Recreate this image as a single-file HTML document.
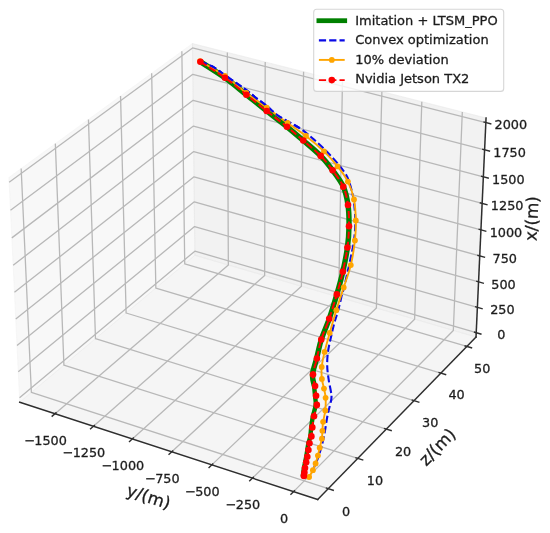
<!DOCTYPE html>
<html lang="en"><head><meta charset="utf-8"><title>Trajectory comparison</title>
<style>html,body{margin:0;padding:0;background:#fff}svg{display:block}</style></head>
<body>
<svg width="550" height="533" viewBox="0 0 550 533">
<rect width="550" height="533" fill="#fff"/>
<polygon points="19.74,402.16 194.92,255.32 192.49,43.55 8.93,177.51" fill="#f2f2f2" fill-opacity="0.5" stroke="#f2f2f2" stroke-opacity="0.5" stroke-width="1"/>
<polygon points="194.92,255.32 476.03,337.02 486.06,117.96 192.49,43.55" fill="#e6e6e6" fill-opacity="0.5" stroke="#e6e6e6" stroke-opacity="0.5" stroke-width="1"/>
<polygon points="19.74,402.16 317.73,499.48 476.03,337.02 194.92,255.32" fill="#ececec" fill-opacity="0.5" stroke="#ececec" stroke-opacity="0.5" stroke-width="1"/>
<g fill="none" stroke="#b8b8b8" stroke-width="1.3" stroke-linejoin="round">
<polyline points="55.04,413.69 228.35,265.03 227.33,52.38"/>
<polyline points="93.42,426.22 264.66,275.59 265.20,61.98"/>
<polyline points="132.33,438.93 301.43,286.27 303.57,71.71"/>
<polyline points="171.79,451.82 338.67,297.10 342.45,81.56"/>
<polyline points="211.81,464.89 376.40,308.07 381.87,91.55"/>
<polyline points="252.40,478.14 414.61,319.17 421.82,101.68"/>
<polyline points="293.57,491.59 453.33,330.43 462.31,111.94"/>
<polyline points="328.28,488.65 31.37,392.41 21.16,168.58"/>
<polyline points="357.78,458.38 63.92,365.13 55.34,143.63"/>
<polyline points="386.34,429.07 95.48,338.67 88.46,119.47"/>
<polyline points="414.01,400.67 126.11,313.00 120.55,96.05"/>
<polyline points="440.84,373.14 155.85,288.07 151.66,73.34"/>
<polyline points="466.85,346.44 184.73,263.86 181.85,51.32"/>
<polyline points="19.53,397.73 194.88,251.13 476.22,332.70"/>
<polyline points="18.28,371.80 194.59,226.61 477.38,307.38"/>
<polyline points="17.02,345.60 194.31,201.85 478.56,281.80"/>
<polyline points="15.75,319.11 194.02,176.85 479.74,255.96"/>
<polyline points="14.46,292.33 193.73,151.59 480.93,229.84"/>
<polyline points="13.15,265.26 193.44,126.08 482.14,203.45"/>
<polyline points="11.83,237.89 193.14,100.32 483.36,176.77"/>
<polyline points="10.50,210.22 192.84,74.29 484.60,149.82"/>
<polyline points="9.15,182.24 192.54,47.99 485.85,122.57"/>
</g>
<g fill="none" stroke="#2e2e2e" stroke-width="1.5" stroke-linecap="square">
<polyline points="19.74,402.16 317.73,499.48"/>
<polyline points="317.73,499.48 476.03,337.02"/>
<polyline points="476.03,337.02 486.06,117.96"/>
</g>
<g fill="none" stroke="#2e2e2e" stroke-width="1.4">
<line x1="51.64" y1="416.61" x2="56.55" y2="412.39"/>
<line x1="90.05" y1="429.18" x2="94.91" y2="424.91"/>
<line x1="129.01" y1="441.93" x2="133.81" y2="437.60"/>
<line x1="168.51" y1="454.86" x2="173.25" y2="450.47"/>
<line x1="208.57" y1="467.98" x2="213.25" y2="463.52"/>
<line x1="249.21" y1="481.28" x2="253.82" y2="476.76"/>
<line x1="290.42" y1="494.77" x2="294.97" y2="490.18"/>
<line x1="333.92" y1="490.48" x2="325.78" y2="487.84"/>
<line x1="363.35" y1="460.15" x2="355.30" y2="457.59"/>
<line x1="391.85" y1="430.78" x2="383.89" y2="428.31"/>
<line x1="419.47" y1="402.33" x2="411.59" y2="399.93"/>
<line x1="446.23" y1="374.75" x2="438.44" y2="372.42"/>
<line x1="472.19" y1="348.00" x2="464.48" y2="345.75"/>
<line x1="481.54" y1="334.24" x2="473.86" y2="332.01"/>
<line x1="482.73" y1="308.91" x2="475.01" y2="306.70"/>
<line x1="483.93" y1="283.32" x2="476.17" y2="281.13"/>
<line x1="485.15" y1="257.45" x2="477.34" y2="255.29"/>
<line x1="486.37" y1="231.32" x2="478.52" y2="229.18"/>
<line x1="487.61" y1="204.91" x2="479.72" y2="202.80"/>
<line x1="488.86" y1="178.22" x2="480.93" y2="176.13"/>
<line x1="490.13" y1="151.25" x2="482.15" y2="149.18"/>
<line x1="491.40" y1="123.98" x2="483.38" y2="121.94"/>
</g>
<g font-family="'DejaVu Sans', 'Liberation Sans', sans-serif" font-size="12.8px" fill="#1c1c1c" stroke="#1c1c1c" stroke-width="0.3" text-anchor="middle">
<text x="45.64" y="444.66">−<tspan dx="-0.8">1500</tspan></text>
<text x="84.02" y="457.19">−<tspan dx="-0.8">1250</tspan></text>
<text x="122.93" y="469.90">−<tspan dx="-0.8">1000</tspan></text>
<text x="162.39" y="482.79">−<tspan dx="-0.8">750</tspan></text>
<text x="202.41" y="495.86">−<tspan dx="-0.8">500</tspan></text>
<text x="243.00" y="509.12">−<tspan dx="-0.8">250</tspan></text>
<text x="284.17" y="522.56">0</text>
<text x="345.98" y="515.72">0</text>
<text x="375.00" y="485.27">10</text>
<text x="403.08" y="455.78">20</text>
<text x="430.27" y="427.20">30</text>
<text x="456.62" y="399.49">40</text>
<text x="482.15" y="372.61">50</text>
<text x="501.22" y="339.47">0</text>
<text x="502.38" y="314.15">250</text>
<text x="503.56" y="288.57">500</text>
<text x="504.74" y="262.73">750</text>
<text x="505.93" y="236.61">1000</text>
<text x="507.14" y="210.22">1250</text>
<text x="508.36" y="183.55">1500</text>
<text x="509.60" y="156.59">1750</text>
<text x="510.85" y="129.34">2000</text>
</g>
<g font-family="'DejaVu Sans', 'Liberation Sans', sans-serif" font-size="16.8px" fill="#1c1c1c" stroke="#1c1c1c" stroke-width="0.3" text-anchor="middle">
<text transform="translate(148.50,497.50) rotate(18.20)" x="0" y="5.04">y/(m)</text>
<text transform="translate(437.80,447.50) rotate(-46.00)" x="0" y="5.04">z/(m)</text>
<text transform="translate(532.60,218.60) rotate(-87.40)" x="0" y="5.04">x/(m)</text>
</g>
<path d="M200.40,61.80C204.50,64.47 217.33,72.32 225.00,77.80C232.67,83.28 239.45,89.17 246.40,94.70C253.35,100.23 259.93,105.65 266.70,111.00C273.47,116.35 280.90,121.88 287.00,126.80C293.10,131.72 297.68,135.65 303.30,140.50C308.92,145.35 315.82,150.93 320.70,155.90C325.58,160.87 328.83,165.17 332.60,170.30C336.37,175.43 340.73,180.92 343.30,186.70C345.87,192.48 347.05,198.42 348.00,205.00C348.95,211.58 349.10,219.10 349.00,226.20C348.90,233.30 348.43,240.00 347.40,247.60C346.37,255.20 344.57,264.00 342.80,271.80C341.03,279.60 339.07,286.57 336.80,294.40C334.53,302.23 331.78,311.28 329.20,318.80C326.62,326.32 323.39,332.88 321.30,339.50C319.21,346.12 318.10,352.65 316.63,358.50C315.16,364.35 312.86,370.00 312.50,374.60C312.13,379.20 314.11,384.18 314.43,386.10" fill="none" stroke="#008000" stroke-width="5.4" stroke-linejoin="round" stroke-linecap="butt"/>
<path d="M314.13,386.10C314.27,387.72 314.74,392.67 315.00,395.80C315.26,398.93 316.05,401.50 315.70,404.90C315.35,408.30 313.65,412.45 312.90,416.20C312.15,419.95 311.63,424.03 311.20,427.40C310.77,430.77 310.77,433.77 310.30,436.40C309.83,439.03 308.90,440.93 308.40,443.20C307.90,445.47 307.67,447.75 307.30,450.00C306.93,452.25 306.57,454.65 306.20,456.70C305.83,458.75 305.48,460.42 305.10,462.30C304.72,464.18 304.20,466.30 303.90,468.00C303.60,469.70 303.48,471.18 303.30,472.50C303.12,473.82 302.88,475.33 302.80,475.90" fill="none" stroke="#008000" stroke-width="4.4" stroke-linejoin="round" stroke-linecap="round"/>
<path d="M200.20,61.70C202.17,62.47 208.37,64.42 212.00,66.30C215.63,68.18 218.62,70.67 222.00,73.00C225.38,75.33 229.08,78.05 232.30,80.30C235.52,82.55 238.43,84.45 241.30,86.50C244.17,88.55 246.95,90.62 249.50,92.60C252.05,94.58 253.80,96.23 256.60,98.40C259.40,100.57 262.57,102.62 266.30,105.60C270.03,108.58 273.50,112.60 279.00,116.30C284.50,120.00 293.30,123.77 299.30,127.80C305.30,131.83 309.72,135.80 315.00,140.50C320.28,145.20 326.12,150.75 331.00,156.00C335.88,161.25 341.22,167.50 344.30,172.00C347.38,176.50 347.97,178.42 349.50,183.00C351.03,187.58 352.53,193.25 353.50,199.50C354.47,205.75 355.22,213.68 355.30,220.50C355.38,227.32 354.92,233.48 354.00,240.40C353.08,247.32 351.48,254.07 349.80,262.00C348.12,269.93 345.20,282.62 343.90,288.00C342.60,293.38 342.75,291.38 342.00,294.30C341.25,297.22 340.32,301.88 339.40,305.50C338.48,309.12 337.33,313.17 336.50,316.00C335.67,318.83 335.25,319.28 334.40,322.50C333.55,325.72 332.45,330.55 331.40,335.30C330.35,340.05 328.80,345.97 328.10,351.00C327.40,356.03 327.10,360.68 327.20,365.50C327.30,370.32 327.98,374.82 328.70,379.90C329.42,384.98 331.28,391.82 331.50,396.00C331.72,400.18 330.65,401.83 330.00,405.00C329.35,408.17 328.65,409.57 327.60,415.00C326.55,420.43 325.13,430.93 323.70,437.60C322.27,444.27 320.78,449.60 319.00,455.00C317.22,460.40 314.67,466.33 313.00,470.00C311.33,473.67 309.67,475.83 309.00,477.00" fill="none" stroke="#0a0ae6" stroke-width="2.1" stroke-dasharray="7.2 3.1" stroke-linejoin="round"/>
<path d="M200.00,61.20C204.17,63.67 217.27,70.72 225.00,76.00C232.73,81.28 239.45,87.63 246.40,92.90C253.35,98.17 259.83,102.58 266.70,107.60C273.57,112.62 281.05,118.27 287.60,123.00C294.15,127.73 299.93,131.27 306.00,136.00C312.07,140.73 318.73,146.33 324.00,151.40C329.27,156.47 333.62,161.37 337.60,166.40C341.58,171.43 345.17,176.08 347.90,181.60C350.63,187.12 352.68,193.02 354.00,199.50C355.32,205.98 355.65,213.68 355.80,220.50C355.95,227.32 355.73,232.97 354.90,240.40C354.07,247.83 352.67,257.27 350.80,265.10C348.93,272.93 346.12,279.88 343.70,287.40C341.28,294.92 338.63,302.60 336.30,310.20C333.97,317.80 331.65,326.05 329.70,333.00C327.75,339.95 325.93,346.23 324.60,351.90C323.27,357.57 322.15,362.50 321.70,367.00C321.25,371.50 321.52,375.30 321.90,378.90C322.28,382.50 323.38,385.45 324.00,388.60C324.62,391.75 325.38,394.15 325.60,397.80C325.82,401.45 325.72,406.50 325.30,410.50C324.88,414.50 323.58,418.42 323.10,421.80C322.62,425.18 322.60,427.98 322.40,430.80C322.20,433.62 322.35,435.88 321.90,438.70C321.45,441.52 320.37,444.88 319.70,447.70C319.03,450.52 318.58,452.97 317.90,455.60C317.22,458.23 316.43,461.07 315.60,463.50C314.77,465.93 313.98,467.95 312.90,470.20C311.82,472.45 309.73,475.87 309.10,477.00" fill="none" stroke="#ffa500" stroke-width="1.9" stroke-linejoin="round"/>
<path d="M200.20,61.70C202.17,62.47 208.37,64.42 212.00,66.30C215.63,68.18 218.62,70.67 222.00,73.00C225.38,75.33 229.08,78.05 232.30,80.30C235.52,82.55 238.43,84.45 241.30,86.50C244.17,88.55 246.95,90.62 249.50,92.60C252.05,94.58 253.80,96.23 256.60,98.40C259.40,100.57 262.57,102.62 266.30,105.60C270.03,108.58 273.50,112.60 279.00,116.30C284.50,120.00 295.92,125.88 299.30,127.80" fill="none" stroke="#0a0ae6" stroke-width="2.1" stroke-dasharray="7.2 3.1" stroke-linejoin="round"/>
<g fill="#ffa500"><circle cx="200.0" cy="61.2" r="2.9"/><circle cx="225.0" cy="76.0" r="2.9"/><circle cx="246.4" cy="92.9" r="2.9"/><circle cx="266.7" cy="107.6" r="2.9"/><circle cx="287.6" cy="123.0" r="2.9"/><circle cx="306.0" cy="136.0" r="2.9"/><circle cx="324.0" cy="151.4" r="2.9"/><circle cx="337.6" cy="166.4" r="2.9"/><circle cx="347.9" cy="181.6" r="2.9"/><circle cx="354.0" cy="199.5" r="2.9"/><circle cx="355.8" cy="220.5" r="2.9"/><circle cx="354.9" cy="240.4" r="2.9"/><circle cx="350.8" cy="265.1" r="2.9"/><circle cx="343.7" cy="287.4" r="2.9"/><circle cx="336.3" cy="310.2" r="2.9"/><circle cx="329.7" cy="333.0" r="2.9"/><circle cx="324.6" cy="351.9" r="2.9"/><circle cx="321.7" cy="367.0" r="2.9"/><circle cx="321.9" cy="378.9" r="2.9"/><circle cx="324.0" cy="388.6" r="2.9"/><circle cx="325.6" cy="397.8" r="2.9"/><circle cx="325.3" cy="410.5" r="2.9"/><circle cx="323.1" cy="421.8" r="2.9"/><circle cx="322.4" cy="430.8" r="2.9"/><circle cx="321.9" cy="438.7" r="2.9"/><circle cx="319.7" cy="447.7" r="2.9"/><circle cx="317.9" cy="455.6" r="2.9"/><circle cx="315.6" cy="463.5" r="2.9"/><circle cx="312.9" cy="470.2" r="2.9"/><circle cx="309.1" cy="477.0" r="2.9"/></g>
<path d="M200.40,61.80C204.50,64.47 217.33,72.32 225.00,77.80C232.67,83.28 239.45,89.17 246.40,94.70C253.35,100.23 259.93,105.65 266.70,111.00C273.47,116.35 280.90,121.88 287.00,126.80C293.10,131.72 297.68,135.65 303.30,140.50C308.92,145.35 315.82,150.93 320.70,155.90C325.58,160.87 328.83,165.17 332.60,170.30C336.37,175.43 340.73,180.92 343.30,186.70C345.87,192.48 347.05,198.42 348.00,205.00C348.95,211.58 349.10,219.10 349.00,226.20C348.90,233.30 348.43,240.00 347.40,247.60C346.37,255.20 344.57,264.00 342.80,271.80C341.03,279.60 339.07,286.57 336.80,294.40C334.53,302.23 331.78,311.28 329.20,318.80C326.62,326.32 323.35,332.88 321.30,339.50C319.25,346.12 318.28,352.65 316.90,358.50C315.52,364.35 313.30,370.00 313.00,374.60C312.70,379.20 314.58,382.57 315.10,386.10C315.62,389.63 315.82,392.67 316.10,395.80C316.38,398.93 317.15,401.50 316.80,404.90C316.45,408.30 314.75,412.45 314.00,416.20C313.25,419.95 312.73,424.03 312.30,427.40C311.87,430.77 311.87,433.77 311.40,436.40C310.93,439.03 310.00,440.93 309.50,443.20C309.00,445.47 308.77,447.75 308.40,450.00C308.03,452.25 307.67,454.65 307.30,456.70C306.93,458.75 306.58,460.42 306.20,462.30C305.82,464.18 305.30,466.30 305.00,468.00C304.70,469.70 304.58,471.18 304.40,472.50C304.22,473.82 303.98,475.33 303.90,475.90" fill="none" stroke="#ff0000" stroke-width="2.0" stroke-dasharray="7.2 3.1" stroke-linejoin="round"/>
<g fill="#ff0000"><circle cx="200.4" cy="61.8" r="3.3"/><circle cx="225.0" cy="77.8" r="3.3"/><circle cx="246.4" cy="94.7" r="3.3"/><circle cx="266.7" cy="111.0" r="3.3"/><circle cx="287.0" cy="126.8" r="3.3"/><circle cx="303.3" cy="140.5" r="3.3"/><circle cx="320.7" cy="155.9" r="3.3"/><circle cx="332.6" cy="170.3" r="3.3"/><circle cx="343.3" cy="186.7" r="3.3"/><circle cx="348.0" cy="205.0" r="3.3"/><circle cx="349.0" cy="226.2" r="3.3"/><circle cx="347.4" cy="247.6" r="3.3"/><circle cx="342.8" cy="271.8" r="3.3"/><circle cx="336.8" cy="294.4" r="3.3"/><circle cx="329.2" cy="318.8" r="3.3"/><circle cx="321.3" cy="339.5" r="3.3"/><circle cx="316.9" cy="358.5" r="3.3"/><circle cx="313.0" cy="374.6" r="3.3"/><circle cx="315.1" cy="386.1" r="3.3"/><circle cx="316.1" cy="395.8" r="3.3"/><circle cx="316.8" cy="404.9" r="3.3"/><circle cx="314.0" cy="416.2" r="3.3"/><circle cx="312.3" cy="427.4" r="3.3"/><circle cx="311.4" cy="436.4" r="3.3"/><circle cx="309.5" cy="443.2" r="3.3"/><circle cx="308.4" cy="450.0" r="3.3"/><circle cx="307.3" cy="456.7" r="3.3"/><circle cx="306.2" cy="462.3" r="3.3"/><circle cx="305.0" cy="468.0" r="3.3"/><circle cx="304.4" cy="472.5" r="3.3"/><circle cx="303.9" cy="475.9" r="3.3"/></g>
<rect x="313.7" y="9.2" width="190" height="82.2" rx="3" ry="3" fill="#fff" fill-opacity="0.8" stroke="#cccccc" stroke-opacity="0.8" stroke-width="1.1"/>
<line x1="318.9" y1="20.7" x2="344.7" y2="20.7" stroke="#008000" stroke-width="4.8" stroke-linecap="square"/>
<line x1="318.9" y1="40.4" x2="344.7" y2="40.4" stroke="#0a0ae6" stroke-width="2.1" stroke-dasharray="7.2 3.1"/>
<line x1="318.9" y1="59.9" x2="344.7" y2="59.9" stroke="#ffa500" stroke-width="1.9"/>
<circle cx="331.8" cy="59.9" r="2.9" fill="#ffa500"/>
<line x1="318.9" y1="80.1" x2="344.7" y2="80.1" stroke="#ff0000" stroke-width="1.9" stroke-dasharray="7.2 3.1"/>
<circle cx="331.8" cy="80.1" r="3.3" fill="#ff0000"/>
<g font-family="'DejaVu Sans', 'Liberation Sans', sans-serif" font-size="13.0px" fill="#1c1c1c" stroke="#1c1c1c" stroke-width="0.3">
<text x="355.2" y="24.7">Imitation + LTSM_PPO</text>
<text x="355.2" y="44.4">Convex optimization</text>
<text x="355.2" y="63.5">10% deviation</text>
<text x="355.2" y="83.3">Nvidia Jetson TX2</text>
</g>
</svg>
</body></html>
